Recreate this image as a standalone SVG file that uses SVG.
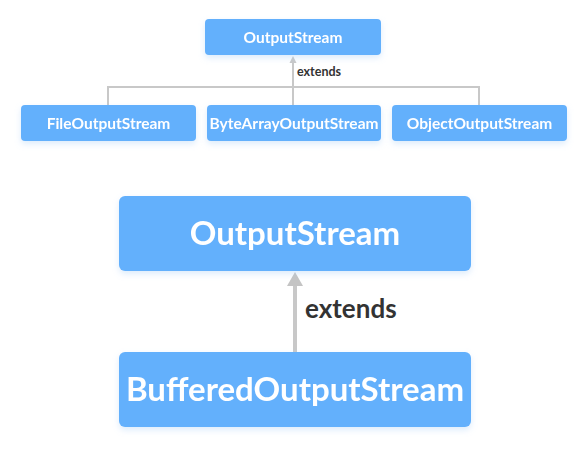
<svg xmlns="http://www.w3.org/2000/svg" width="587" height="455" viewBox="0 0 587 455">
<defs>
<style>
.box{fill:#64b0fc;}
.t{font-family:Lato,"Liberation Sans",sans-serif;font-weight:700;fill:#ffffff;text-anchor:middle;}
.s{font-size:15.5px;}
.b{font-size:33px;}
.lbl{font-family:Lato,"Liberation Sans",sans-serif;font-weight:700;fill:#333333;}
.ln{stroke:#c8c8c8;fill:none;}
</style>
<filter id="sh" x="-10%" y="-20%" width="120%" height="160%">
<feDropShadow dx="0" dy="3" stdDeviation="3" flood-color="#9ec9f5" flood-opacity="0.35"/>
</filter>
</defs>
<rect width="587" height="455" fill="#ffffff"/>
<g id="connectors">
<polyline class="ln" stroke-width="2" points="108,105 108,87 479,87 479,105"/>
<line class="ln" stroke-width="2" x1="293" y1="105" x2="293" y2="61"/>
<polygon points="293,56 289.5,63 296.5,63" fill="#c8c8c8"/>
<text class="lbl" x="297" y="76" font-size="12.5">extends</text>
<line class="ln" stroke="#c0c0c0" stroke-width="4" x1="295" y1="352" x2="295" y2="284"/>
<polygon points="295,272 287,286 303,286" fill="#c4c4c4"/>
<text class="lbl" x="305" y="318" font-size="26">extends</text>
</g>
<g id="top-outputstream" filter="url(#sh)">
<rect class="box" x="205" y="19" width="176" height="36" rx="4"/>
<text class="t s" x="293" y="42.5">OutputStream</text>
</g>
<g id="fileoutputstream" filter="url(#sh)">
<rect class="box" x="21" y="105" width="175" height="36" rx="4"/>
<text class="t s" x="108.5" y="129">FileOutputStream</text>
</g>
<g id="bytearrayoutputstream" filter="url(#sh)">
<rect class="box" x="207" y="105" width="174" height="36" rx="4"/>
<text class="t s" x="294" y="129">ByteArrayOutputStream</text>
</g>
<g id="objectoutputstream" filter="url(#sh)">
<rect class="box" x="392" y="105" width="175" height="36" rx="4"/>
<text class="t s" x="479.5" y="129">ObjectOutputStream</text>
</g>
<g id="big-outputstream" filter="url(#sh)">
<rect class="box" x="119" y="196" width="352" height="75" rx="6"/>
<text class="t b" x="295" y="245">OutputStream</text>
</g>
<g id="bufferedoutputstream" filter="url(#sh)">
<rect class="box" x="119" y="352" width="352" height="75" rx="6"/>
<text class="t b" x="295" y="400.5">BufferedOutputStream</text>
</g>
</svg>
